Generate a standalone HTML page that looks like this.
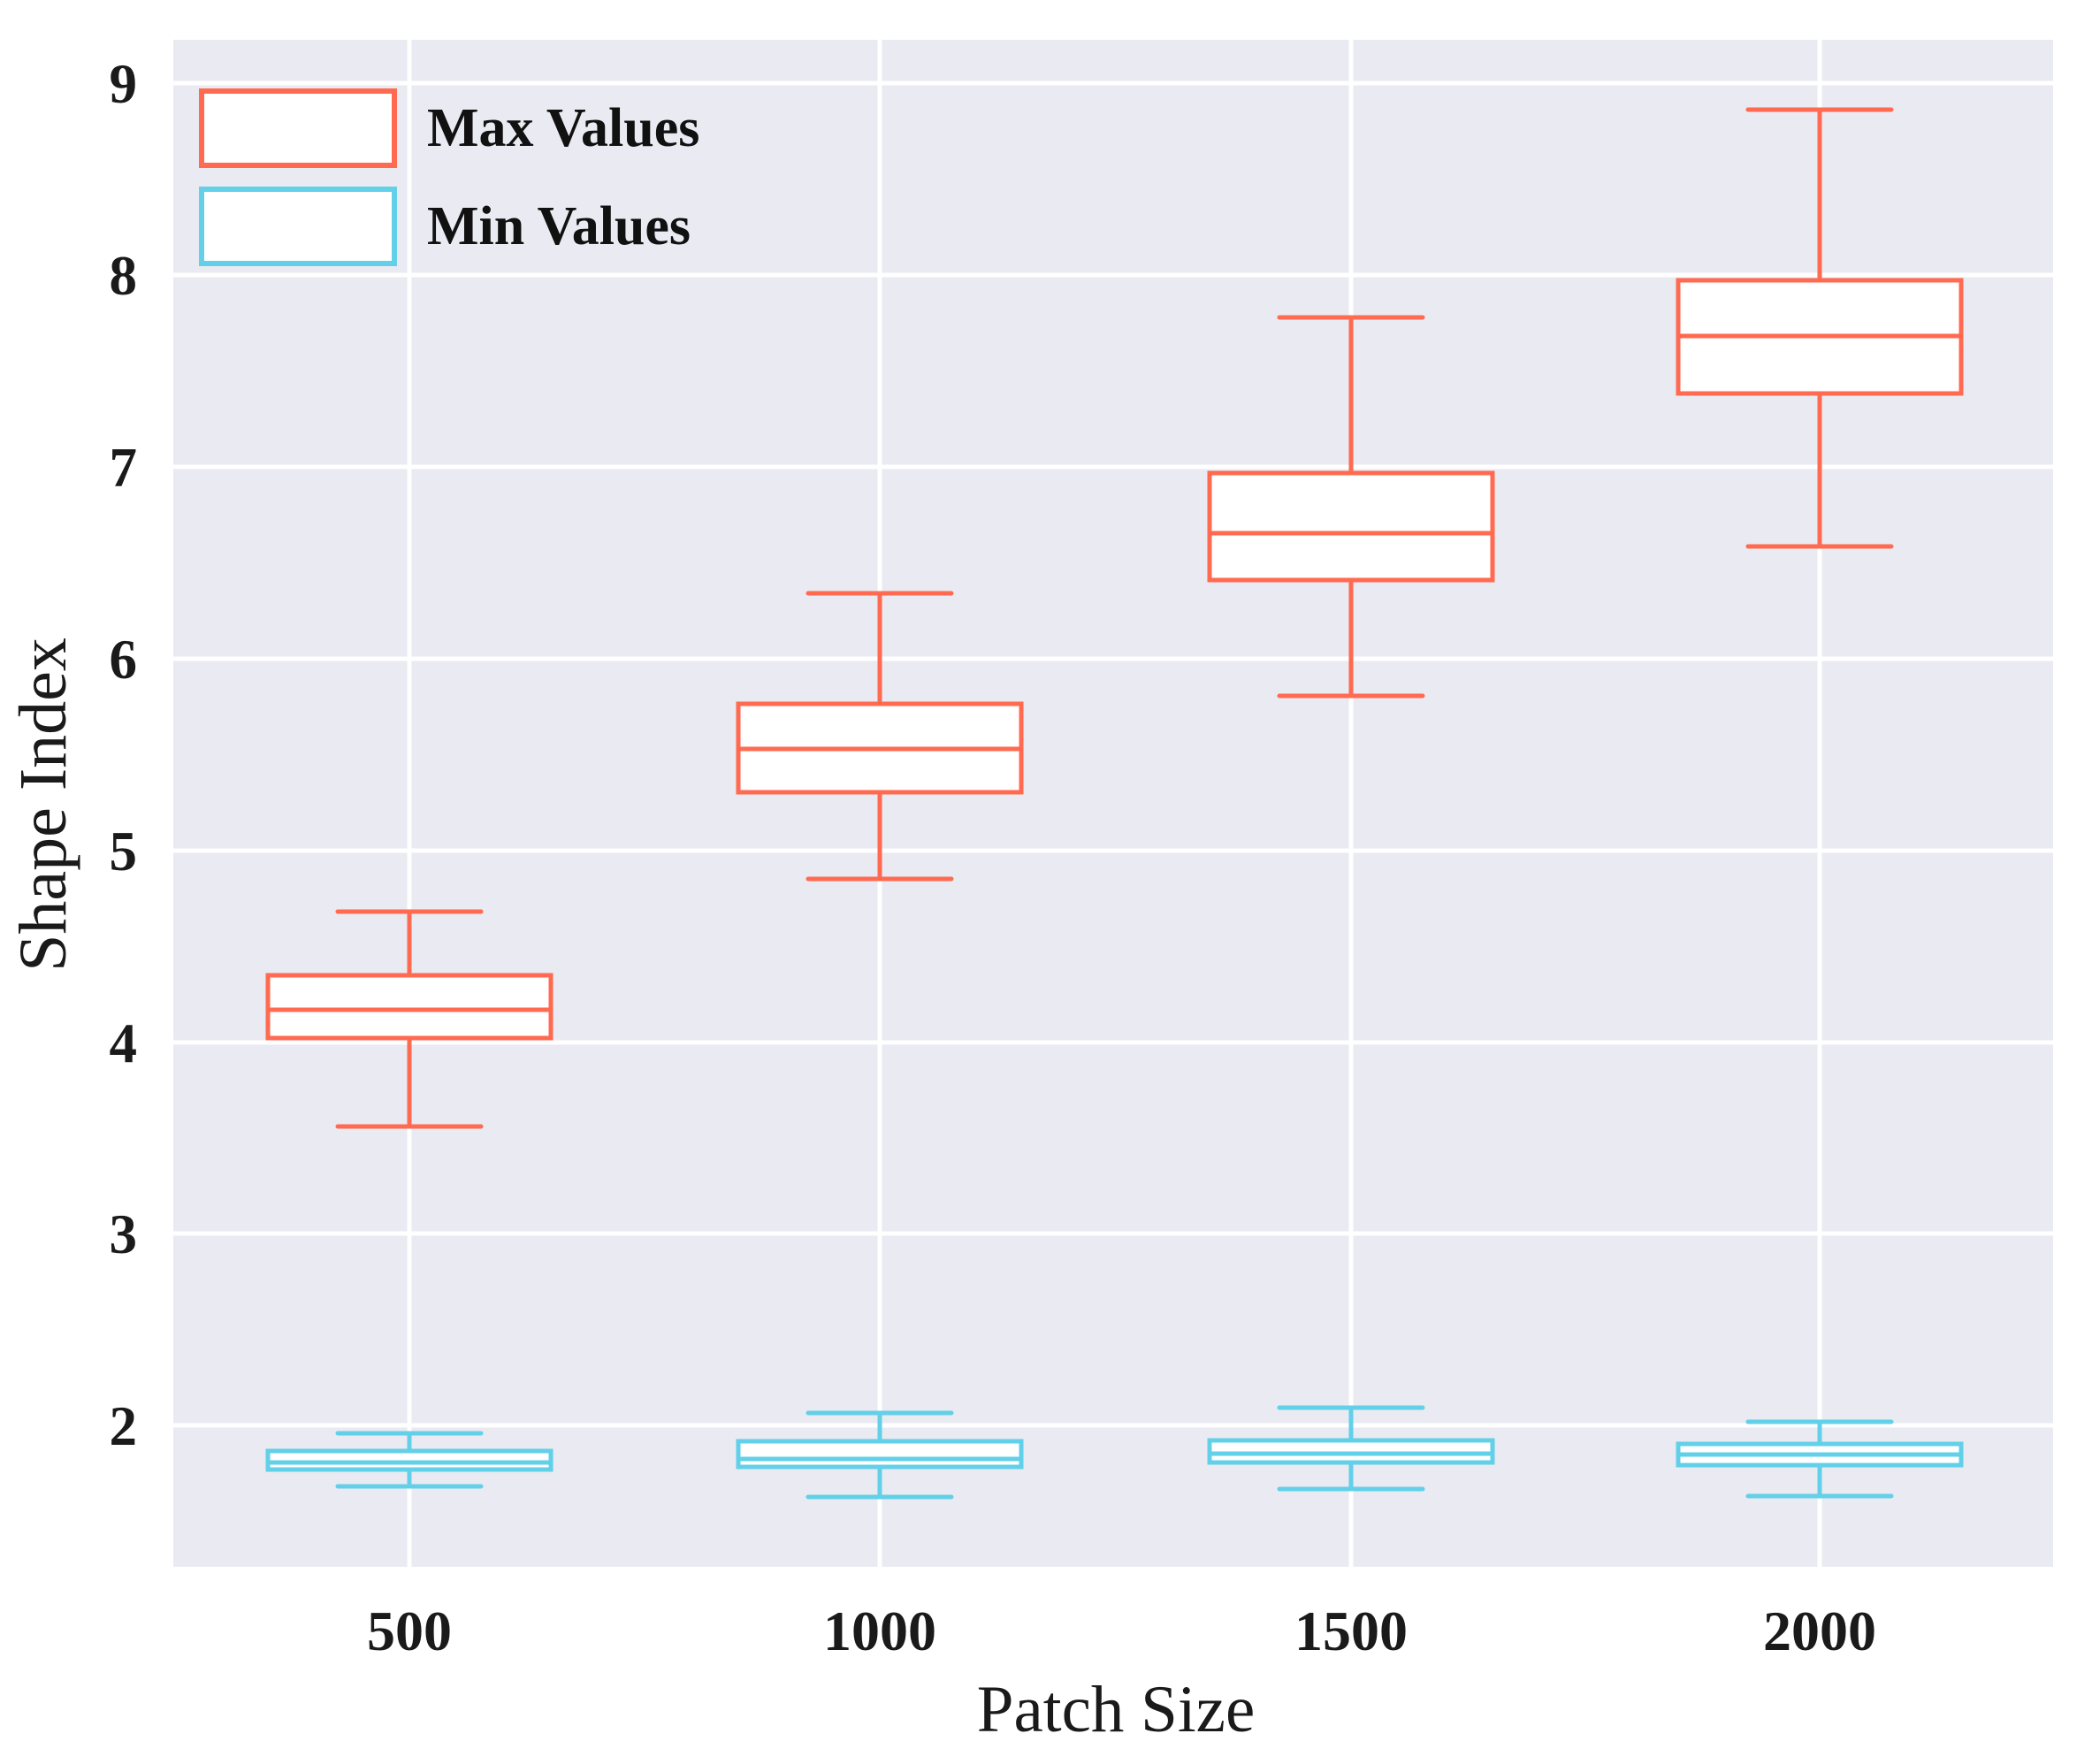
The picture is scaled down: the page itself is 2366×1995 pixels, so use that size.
<!DOCTYPE html>
<html><head><meta charset="utf-8"><style>body{margin:0;background:#fff}svg{display:block}</style></head><body>
<svg width="2366" height="1995" xmlns="http://www.w3.org/2000/svg" font-family="Liberation Serif, serif">
<rect x="196" y="45" width="2126" height="1727" fill="#EAEAF2"/>
<g stroke="#fff" stroke-width="5">
<line x1="196" x2="2322" y1="94" y2="94"/><line x1="196" x2="2322" y1="311" y2="311"/><line x1="196" x2="2322" y1="528" y2="528"/><line x1="196" x2="2322" y1="745" y2="745"/><line x1="196" x2="2322" y1="962" y2="962"/><line x1="196" x2="2322" y1="1179" y2="1179"/><line x1="196" x2="2322" y1="1395" y2="1395"/><line x1="196" x2="2322" y1="1612" y2="1612"/>
<line x1="463" x2="463" y1="45" y2="1772"/><line x1="995" x2="995" y1="45" y2="1772"/><line x1="1528" x2="1528" y1="45" y2="1772"/><line x1="2058" x2="2058" y1="45" y2="1772"/>
</g>
<g font-weight="bold" font-size="63" fill="#1a1a1a" text-anchor="end">
<text x="155" y="116">9</text><text x="155" y="333">8</text><text x="155" y="550">7</text><text x="155" y="767">6</text><text x="155" y="984">5</text><text x="155" y="1201">4</text><text x="155" y="1417">3</text><text x="155" y="1634">2</text>
</g>
<g font-weight="bold" font-size="64" fill="#1a1a1a" text-anchor="middle">
<text x="463" y="1866">500</text><text x="995" y="1866">1000</text><text x="1528" y="1866">1500</text><text x="2058" y="1866">2000</text>
</g>
<text x="1262" y="1958" font-size="75" text-anchor="middle" fill="#1a1a1a">Patch Size</text>
<text transform="translate(74,910) rotate(-90)" font-size="76" text-anchor="middle" fill="#1a1a1a">Shape Index</text>
<g stroke-width="5" fill="#fff" stroke-linecap="round">
<g stroke="#FF6A50">
<path d="M463 1031V1103M463 1174V1274M382 1031H544M382 1274H544"/><rect x="303" y="1103" width="320" height="71"/><path d="M303 1142H623"/>
<path d="M995 671V796M995 896V994M914 671H1076M914 994H1076"/><rect x="835" y="796" width="320" height="100"/><path d="M835 847H1155"/>
<path d="M1528 359V535M1528 656V787M1447 359H1609M1447 787H1609"/><rect x="1368" y="535" width="320" height="121"/><path d="M1368 603H1688"/>
<path d="M2058 124V317M2058 445V618M1977 124H2139M1977 618H2139"/><rect x="1898" y="317" width="320" height="128"/><path d="M1898 380H2218"/>
</g>
<g stroke="#62D0E8">
<path d="M463 1621V1641M463 1662V1681M382 1621H544M382 1681H544"/><rect x="303" y="1641" width="320" height="21"/><path d="M303 1654H623"/>
<path d="M995 1598V1630M995 1659V1693M914 1598H1076M914 1693H1076"/><rect x="835" y="1630" width="320" height="29"/><path d="M835 1650H1155"/>
<path d="M1528 1592V1629M1528 1654V1684M1447 1592H1609M1447 1684H1609"/><rect x="1368" y="1629" width="320" height="25"/><path d="M1368 1644H1688"/>
<path d="M2058 1608V1633M2058 1657V1692M1977 1608H2139M1977 1692H2139"/><rect x="1898" y="1633" width="320" height="24"/><path d="M1898 1645H2218"/>
</g>
</g>
<rect x="228" y="103" width="218" height="84" fill="#fff" stroke="#FF6A50" stroke-width="6"/>
<rect x="228" y="214" width="218" height="84" fill="#fff" stroke="#62D0E8" stroke-width="6"/>
<g font-weight="bold" font-size="62" fill="#111">
<text x="483" y="165">Max Values</text><text x="483" y="276">Min Values</text>
</g>
</svg>
</body></html>
